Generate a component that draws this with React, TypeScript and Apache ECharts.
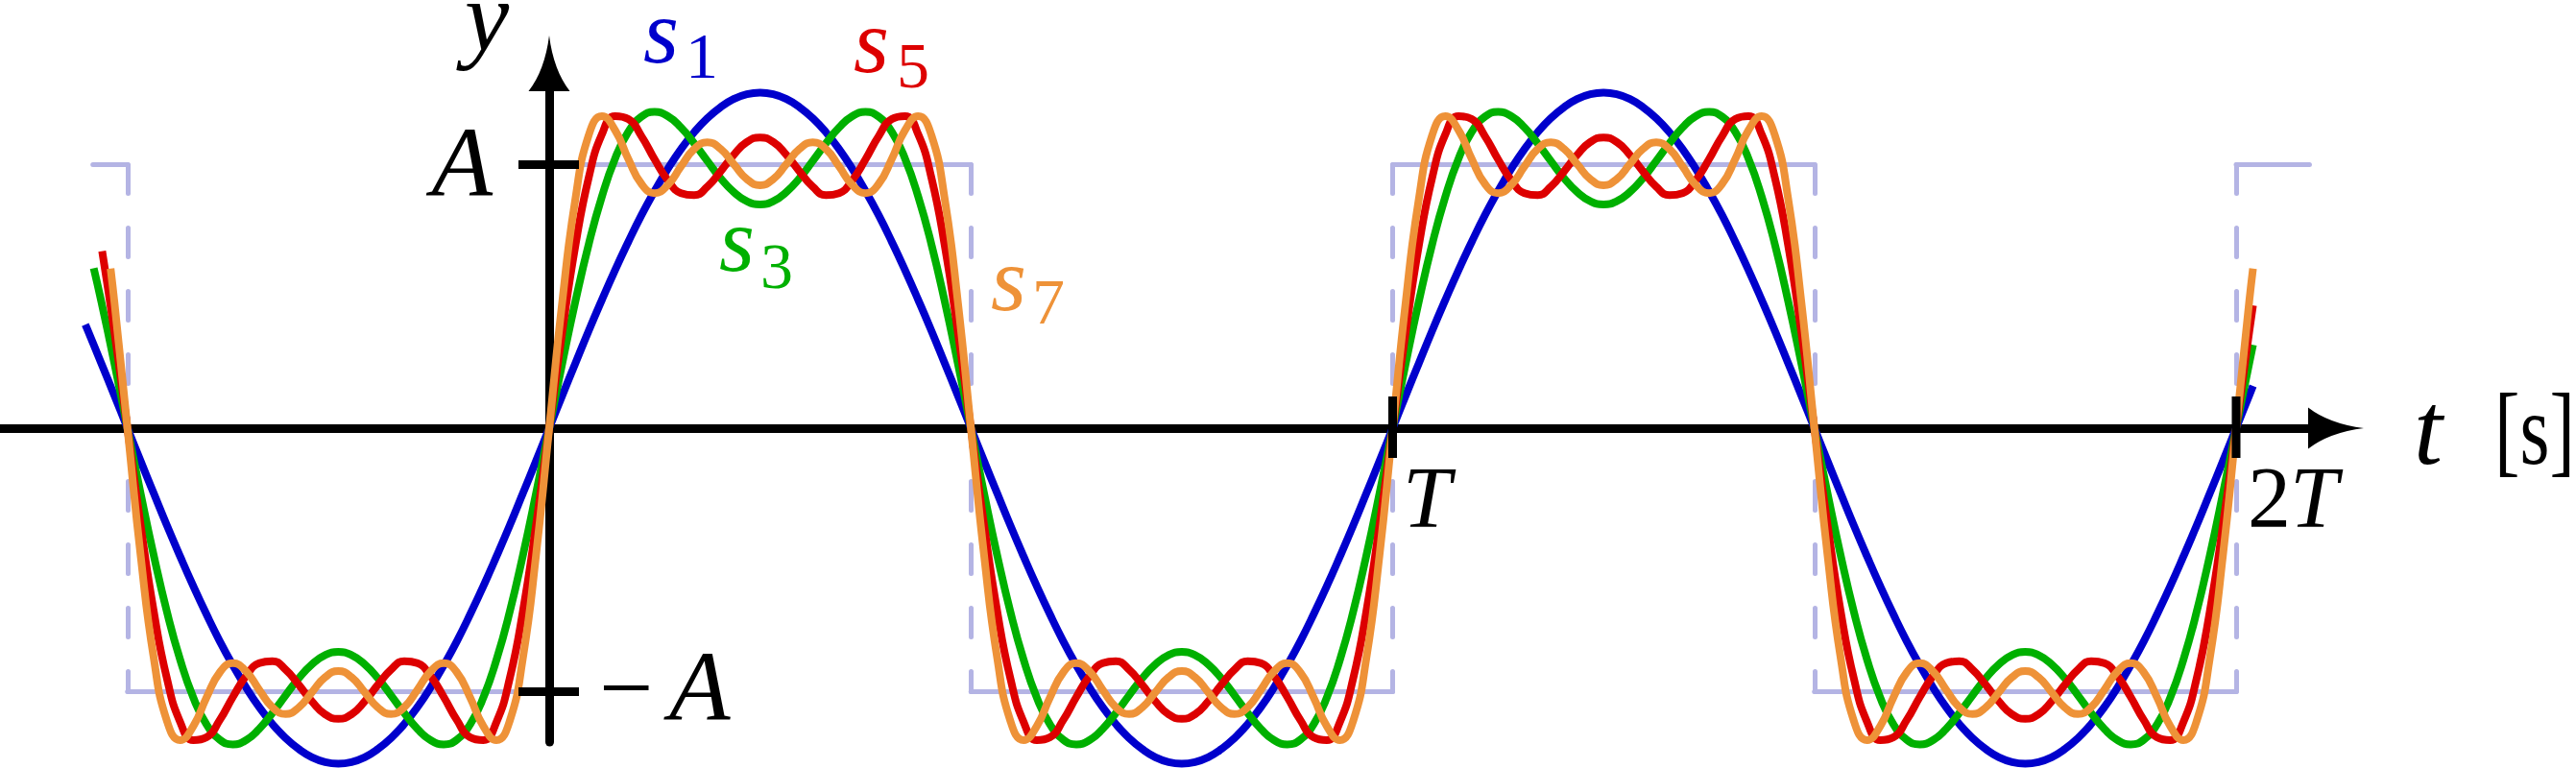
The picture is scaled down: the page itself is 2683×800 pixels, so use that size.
import React, { useEffect, useRef } from "react";
import * as echarts from "echarts";

// ---- data (values in units of T for time and A for amplitude) ----
const SAMPLES_PER_PERIOD = 64;

const S1_PERIOD = [
  0, 0.125, 0.248, 0.37, 0.487, 0.6, 0.707, 0.808, 0.9, 0.984, 1.059, 1.123, 1.176, 1.218, 1.249, 1.267,
  1.273, 1.267, 1.249, 1.218, 1.176, 1.123, 1.059, 0.984, 0.9, 0.808, 0.707, 0.6, 0.487, 0.37, 0.248, 0.125,
  0, -0.125, -0.248, -0.37, -0.487, -0.6, -0.707, -0.808, -0.9, -0.984, -1.059, -1.123, -1.176, -1.218, -1.249, -1.267,
  -1.273, -1.267, -1.249, -1.218, -1.176, -1.123, -1.059, -0.984, -0.9, -0.808, -0.707, -0.6, -0.487, -0.37, -0.248, -0.125,
];
const S3_PERIOD = [
  0, 0.248, 0.484, 0.698, 0.879, 1.023, 1.124, 1.182, 1.2, 1.184, 1.141, 1.081, 1.014, 0.949, 0.896, 0.861,
  0.849, 0.861, 0.896, 0.949, 1.014, 1.081, 1.141, 1.184, 1.2, 1.182, 1.124, 1.023, 0.879, 0.698, 0.484, 0.248,
  0, -0.248, -0.484, -0.698, -0.879, -1.023, -1.124, -1.182, -1.2, -1.184, -1.141, -1.081, -1.014, -0.949, -0.896, -0.861,
  -0.849, -0.861, -0.896, -0.949, -1.014, -1.081, -1.141, -1.184, -1.2, -1.182, -1.124, -1.023, -0.879, -0.698, -0.484, -0.248,
];
const S5_PERIOD = [
  0, 0.368, 0.696, 0.951, 1.115, 1.184, 1.173, 1.108, 1.02, 0.941, 0.892, 0.884, 0.916, 0.974, 1.037, 1.086,
  1.103, 1.086, 1.037, 0.974, 0.916, 0.884, 0.892, 0.941, 1.02, 1.108, 1.173, 1.184, 1.115, 0.951, 0.696, 0.368,
  0, -0.368, -0.696, -0.951, -1.115, -1.184, -1.173, -1.108, -1.02, -0.941, -0.892, -0.884, -0.916, -0.974, -1.037, -1.086,
  -1.103, -1.086, -1.037, -0.974, -0.916, -0.884, -0.892, -0.941, -1.02, -1.108, -1.173, -1.184, -1.115, -0.951, -0.696, -0.368,
];
const S7_PERIOD = [
  0, 0.483, 0.874, 1.112, 1.184, 1.131, 1.022, 0.927, 0.892, 0.923, 0.993, 1.059, 1.085, 1.06, 1.002, 0.945,
  0.922, 0.945, 1.002, 1.06, 1.085, 1.059, 0.993, 0.923, 0.892, 0.927, 1.022, 1.131, 1.184, 1.112, 0.874, 0.483,
  0, -0.483, -0.874, -1.112, -1.184, -1.131, -1.022, -0.927, -0.892, -0.923, -0.993, -1.059, -1.085, -1.06, -1.002, -0.945,
  -0.922, -0.945, -1.002, -1.06, -1.085, -1.059, -0.993, -0.923, -0.892, -0.927, -1.022, -1.131, -1.184, -1.112, -0.874, -0.483,
];

const SERIES_NAMES = ["s1", "s3", "s5", "s7"];
const SERIES_SUBS = ["1", "3", "5", "7"];
const START_POINTS = [
  [-0.55, 0.393],
  [-0.54, 0.607],
  [-0.53, 0.672],
  [-0.52, 0.606],
];
const END_POINTS = [
  [2.02, 0.16],
  [2.02, 0.316],
  [2.02, 0.466],
  [2.02, 0.606],
];

// ideal square wave
const JUMP_TIMES = [-0.5, 0, 0.5, 1, 1.5, 2];
const SQUARE_START = -0.541;
const SQUARE_END = 2.087;
const SQUARE_LEVELS = [1, -1, 1, -1, 1, -1, 1];

// axis ticks
const Y_TICKS = [1, -1];
const X_TICKS = [1, 2];

// ---- styles ----
const COLORS = ["#0000cc", "#00b000", "#dd0000", "#ee9238"];
const SQUARE_COLOR = "#b4b4e4";
const FONT = '"Liberation Serif", "DejaVu Serif", serif';

function buildCurve(period: number[], start: number[], end: number[]) {
  const pts: number[][] = [start];
  const n0 = Math.ceil(start[0] * SAMPLES_PER_PERIOD + 1e-9);
  const n1 = Math.floor(end[0] * SAMPLES_PER_PERIOD - 1e-9);
  for (let n = n0; n <= n1; n++) {
    const idx = ((n % SAMPLES_PER_PERIOD) + SAMPLES_PER_PERIOD) % SAMPLES_PER_PERIOD;
    pts.push([n / SAMPLES_PER_PERIOD, period[idx]]);
  }
  pts.push(end);
  return pts;
}

function txt(
  text: string,
  x: number,
  baseline: number,
  size: number,
  italic: boolean,
  color: string,
  align: string = "left",
  scaleX: number = 1
) {
  return {
    type: "text",
    x,
    y: baseline - 0.3375 * size,
    scaleX,
    z: 100,
    style: {
      text,
      font: `${italic ? "italic " : ""}${size}px ${FONT}`,
      fill: color,
      align,
      verticalAlign: "middle",
      textAlign: align,
      textVerticalAlign: "middle",
    },
  };
}

export default function App() {
  const ref = useRef<HTMLDivElement>(null);

  useEffect(() => {
    document.body.style.margin = "0";
    document.body.style.overflow = "hidden";
    if (!ref.current) return;
    const chart = echarts.init(ref.current, undefined, { renderer: "svg" });

    const periods = [S1_PERIOD, S3_PERIOD, S5_PERIOD, S7_PERIOD];
    const curveSeries = periods.map((p, i) => ({
      type: "line",
      name: SERIES_NAMES[i],
      data: buildCurve(p, START_POINTS[i], END_POINTS[i]),
      showSymbol: false,
      symbol: "none",
      smooth: 0.5,
      clip: false,
      z: 2,
      lineStyle: { color: COLORS[i], width: 8, cap: "butt", join: "round" },
    }));

    const bounds = [SQUARE_START, ...JUMP_TIMES, SQUARE_END];
    const horiz = SQUARE_LEVELS.map((lv, i) => ({
      coords: [
        [bounds[i], lv],
        [bounds[i + 1], lv],
      ],
    }));
    const vert = JUMP_TIMES.map((t) => ({
      coords: [
        [t, 1],
        [t, -1],
      ],
    }));

    const arrowPath = "path://M21.5,0 Q26,36 43,58 L0,58 Q17,36 21.5,0 Z";

    chart.setOption({
      animation: false,
      backgroundColor: "#ffffff",
      grid: { left: 0, right: 250, top: 66, bottom: 27, containLabel: false },
      xAxis: {
        type: "value",
        min: -572 / 878.5,
        max: 1861 / 878.5,
        z: 1.5,
        axisLine: {
          onZero: true,
          symbol: ["none", arrowPath],
          symbolSize: [43, 58],
          lineStyle: { color: "#000", width: 9 },
        },
        axisTick: { show: false },
        axisLabel: { show: false },
        splitLine: { show: false },
      },
      yAxis: {
        type: "value",
        min: -327 / 274.5,
        max: 380 / 274.5,
        z: 1.5,
        axisLine: {
          onZero: true,
          symbol: ["none", arrowPath],
          symbolSize: [43, 58],
          lineStyle: { color: "#000", width: 9 },
        },
        axisTick: { show: false },
        axisLabel: { show: false },
        splitLine: { show: false },
      },
      series: [
        {
          type: "lines",
          coordinateSystem: "cartesian2d",
          z: 1,
          data: horiz,
          lineStyle: { color: SQUARE_COLOR, width: 5, cap: "round", opacity: 1 },
        },
        {
          type: "lines",
          coordinateSystem: "cartesian2d",
          z: 1,
          data: vert,
          lineStyle: {
            color: SQUARE_COLOR,
            width: 5,
            type: [30, 36],
            cap: "round",
            opacity: 1,
          },
        },
        ...curveSeries,
        {
          type: "custom",
          z: 3,
          encode: { x: 0, y: 1 },
          data: Y_TICKS.map((v) => [0, v]),
          renderItem: (params: any, api: any) => {
            const p = api.coord([api.value(0), api.value(1)]);
            return {
              type: "line",
              shape: { x1: p[0] - 32, y1: p[1], x2: p[0] + 31, y2: p[1] },
              style: { stroke: "#000", lineWidth: 9 },
            };
          },
        },
        {
          type: "custom",
          z: 3,
          encode: { x: 0, y: 1 },
          data: X_TICKS.map((v) => [v, 0]),
          renderItem: (params: any, api: any) => {
            const p = api.coord([api.value(0), api.value(1)]);
            return {
              type: "line",
              shape: { x1: p[0], y1: p[1] - 33, x2: p[0], y2: p[1] + 31 },
              style: { stroke: "#000", lineWidth: 9 },
            };
          },
        },
      ],
      graphic: [
        txt("y", 484, 52, 104, true, "#000"),
        txt("A", 513, 204, 104, true, "#000", "right"),
        txt("\u2212", 624, 750, 100, false, "#000"),
        txt("A", 697, 750, 104, true, "#000"),
        txt("T", 1461, 549, 90, true, "#000"),
        txt("2", 2341, 549, 90, false, "#000"),
        txt("T", 2385, 549, 90, true, "#000"),
        txt("t", 2514, 483, 108, true, "#000"),
        txt("[s]", 2598, 483, 106, false, "#000", "left", 0.75),
        txt("s", 670, 65, 95, true, COLORS[0]),
        txt(SERIES_SUBS[0], 714, 81, 68, false, COLORS[0]),
        txt("s", 749, 282, 95, true, COLORS[1]),
        txt(SERIES_SUBS[1], 792, 300, 68, false, COLORS[1]),
        txt("s", 889, 75, 95, true, COLORS[2]),
        txt(SERIES_SUBS[2], 934, 91, 68, false, COLORS[2]),
        txt("s", 1032, 323, 95, true, COLORS[3]),
        txt(SERIES_SUBS[3], 1075, 337, 68, false, COLORS[3]),
      ],
    });

    return () => chart.dispose();
  }, []);

  return <div ref={ref} style={{ width: 2683, height: 800 }} />;
}
